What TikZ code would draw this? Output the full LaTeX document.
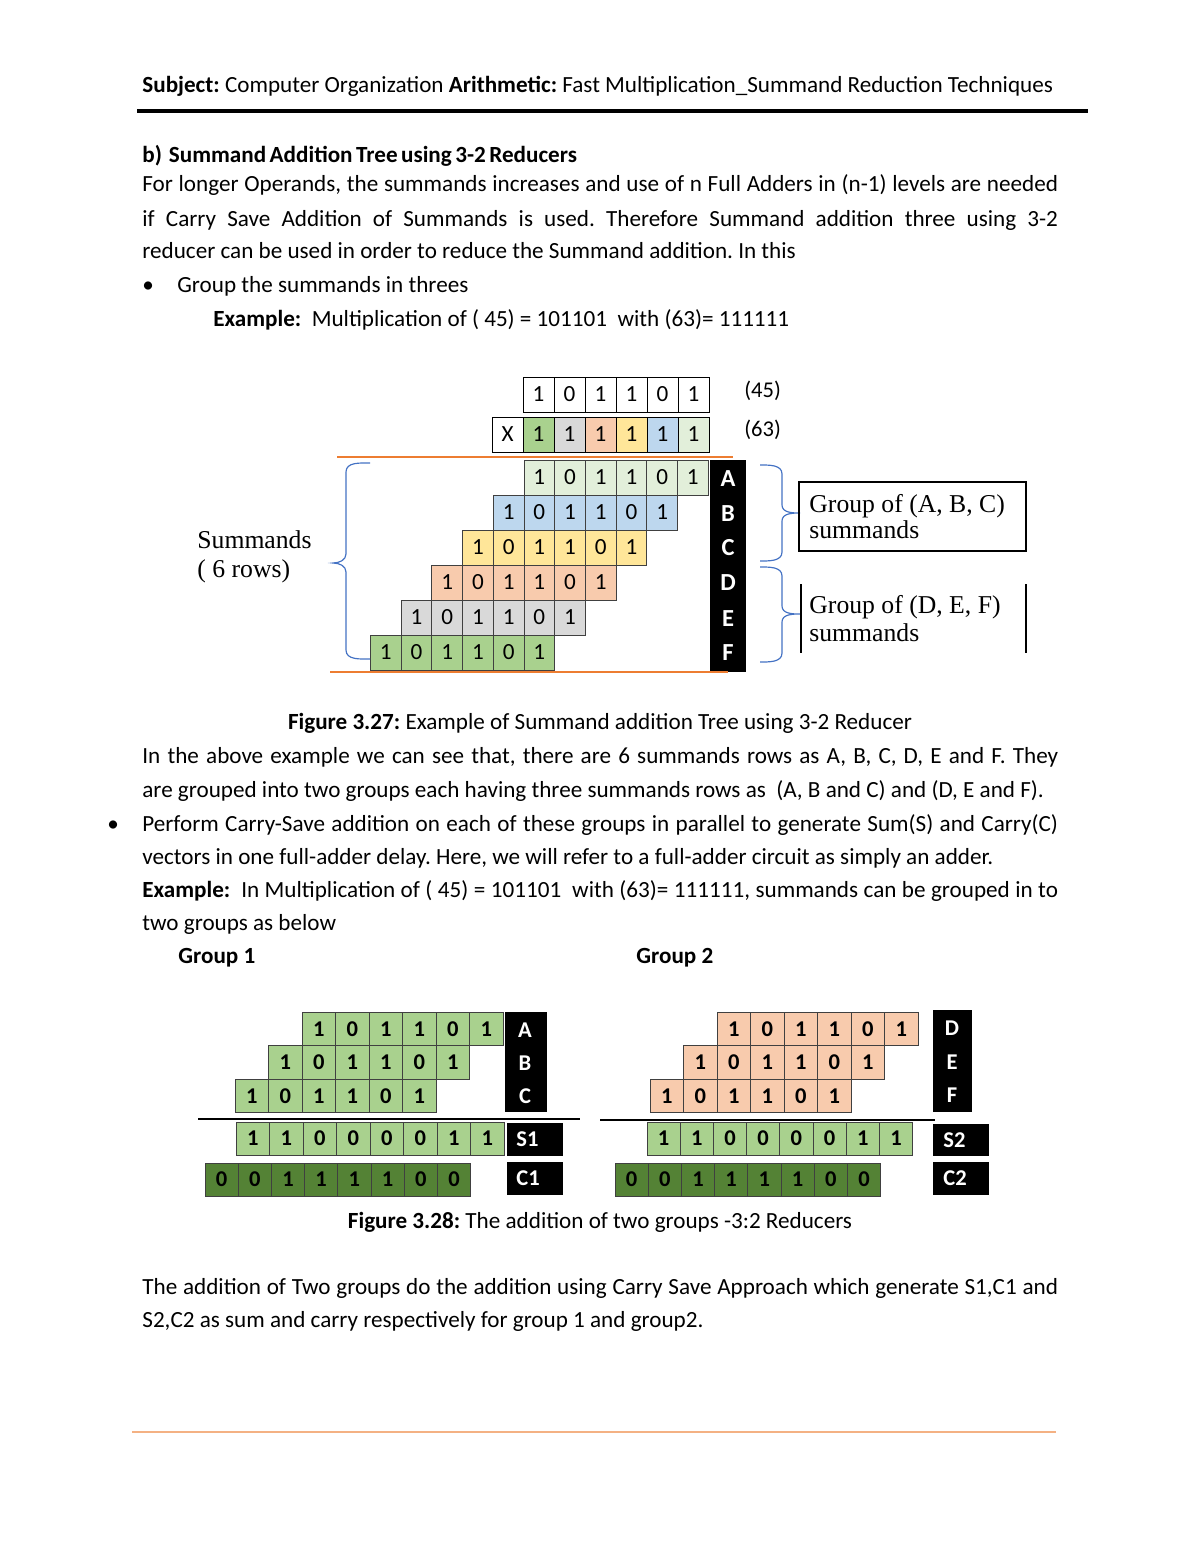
\documentclass[tikz,border=0pt]{standalone}
\usepackage{fontspec}
\setmainfont{Carlito}
\newfontfamily\seriffont{Liberation Serif}
\usetikzlibrary{positioning}

\definecolor{pgreen}{HTML}{A9D18E}
\definecolor{plight}{HTML}{E2EFDA}
\definecolor{pblue}{HTML}{BDD7EE}
\definecolor{pyellow}{HTML}{FFE699}
\definecolor{ppeach}{HTML}{F8CBAD}
\definecolor{pgray}{HTML}{D9D9D9}
\definecolor{pdark}{HTML}{548235}
\definecolor{lineorange}{HTML}{ED7D31}
\definecolor{footorange}{HTML}{F4B183}
\definecolor{braceblue}{HTML}{4472C4}

% one justified line of the 467pt text block
\newcommand{\jline}[1]{\hbox to 467pt{\spaceskip=0.226em plus 1em minus 0.12em #1}}

\begin{document}
\frenchspacing
\begin{tikzpicture}[x=0.51pt,y=-0.51pt,
  txt/.style={anchor=base west,inner sep=0pt,font=\fontsize{11.8}{14}\selectfont},
  btxt/.style={txt,font=\bfseries\fontsize{11.8}{14}\selectfont},
  serif/.style={anchor=base west,inner sep=0pt,font=\seriffont\fontsize{13.1}{15}\selectfont},
  cellbox/.style={draw=black!75,line width=0.5pt},
  digit/.style={inner sep=0pt,font=\fontsize{11.8}{14}\selectfont},
  bdigit/.style={inner sep=0pt,font=\bfseries\fontsize{11.5}{14}\selectfont},
  tag/.style={inner sep=0pt,text=white,font=\bfseries\fontsize{12.5}{14}\selectfont},
  stag/.style={anchor=west,inner sep=0pt,text=white,font=\bfseries\fontsize{11.5}{13}\selectfont},
  bracket/.style={draw=braceblue,line width=0.6pt},
  orule/.style={draw=lineorange,line width=1pt}]

\useasboundingbox[fill=white] (0,0) rectangle (1200,1553);

% header
\node[txt] (head) at (142,93) {\textbf{Subject:} Computer Organization \textbf{Arithmetic:} Fast Multiplication\_Summand Reduction Techniques};
\draw[line width=2pt] (137,111) -- (1088,111);

% first text block
\node[btxt] (title) at (142,163) {\spaceskip=0.15em b)\ \ Summand Addition Tree using 3-2 Reducers};
\node[txt] (l1) at (142,192) {\jline{For longer Operands, the summands increases and use of n Full Adders in (n-1) levels are needed}};
\node[txt] (l2) at (142,226) {\jline{if Carry Save Addition of Summands is used. Therefore Summand addition three using 3-2}};
\node[txt] (l3) at (142,258) {reducer can be used in order to reduce the Summand addition. In this};
\node[txt] (dot1) at (142,292) {\textbullet};
\node[txt] (l4) at (177,292) {Group the summands in threes};
\node[txt] (l5) at (213,326) {\textbf{Example:}\ \ Multiplication of ( 45) = 101101\ \ with (63)= 111111};

% Figure 3.27: multiplicand and multiplier
\foreach \b [count=\i] in {1,0,1,1,0,1}
  \draw[cellbox,draw=black] ({523+(\i-1)*31},377) rectangle ++(31,35)
    node[digit] (m\i) at ({523+(\i-0.5)*31},394.5) {\b};
\draw[cellbox,draw=black] (492,417) rectangle ++(31,35) node[digit] (x) at (507.5,434.5) {X};
\foreach \col [count=\i] in {pgreen,pgray,ppeach,pyellow,pblue,plight}
  \draw[cellbox,draw=black,fill=\col] ({523+(\i-1)*31},417) rectangle ++(31,35)
    node[digit] (q\i) at ({523+(\i-0.5)*31},434.5) {1};
\node[txt,font=\fontsize{11.5}{14}\selectfont] (n45) at (744,397) {(45)};
\node[txt,font=\fontsize{11.5}{14}\selectfont] (n63) at (744,436) {(63)};

% summand rows
\foreach \row/\px/\py/\col in {A/524/460/plight,B/493.3/495/pblue,C/462.6/530/pyellow,D/431.9/565/ppeach,E/401.2/600/pgray,F/370.5/635/pgreen}
  \foreach \b [count=\i] in {1,0,1,1,0,1}
    \draw[cellbox,fill=\col] ({\px+(\i-1)*30.7},\py) rectangle ++(30.7,35)
      node[digit] (\row\i) at ({\px+(\i-0.5)*30.7},\py+17.5) {\b};

\fill (710,460) rectangle (746,672);
\foreach \row/\py in {A/479,B/514,C/548,D/583,E/619,F/653}
  \node[tag] (t\row) at (728,\py) {\row};

\draw[orule] (337,457) -- (733,457);
\draw[orule] (330,672) -- (728,672);

% braces
\draw[bracket] (370,463) to[out=180,in=90] (346,472) -- (346,554) to[out=-90,in=0] (333,563)
  to[out=0,in=90] (346,572) -- (346,650) to[out=-90,in=180] (370,659);
\draw[bracket] (760,465) to[out=0,in=90] (782,474) -- (782,505) to[out=-90,in=180] (800,513)
  to[out=180,in=90] (782,521) -- (782,552) to[out=-90,in=0] (760,561);
\draw[bracket] (760,567) to[out=0,in=90] (782,576) -- (782,606) to[out=-90,in=180] (800,614)
  to[out=180,in=90] (782,622) -- (782,653) to[out=-90,in=0] (760,662);

\node[serif] (sum1) at (197,548) {Summands};
\node[serif] (sum2) at (197,577) {( 6 rows)};
\draw[line width=0.8pt] (799,482) rectangle (1026,551);
\node[serif] (g1a) at (809,512) {Group of (A, B, C)};
\node[serif] (g1b) at (809,538) {summands};
\draw[line width=0.8pt] (801,584) -- (801,653);
\draw[line width=0.8pt] (1026,584) -- (1026,653);
\node[serif] (g2a) at (809,613) {Group of (D, E, F)};
\node[serif] (g2b) at (809,641) {summands};

% second text block
\node[txt,anchor=base] (cap1) at (600,729) {\textbf{Figure 3.27:} Example of Summand addition Tree using 3-2 Reducer};
\node[txt] (p1) at (142,763) {\jline{In the above example we can see that, there are 6 summands rows as A, B, C, D, E and F. They}};
\node[txt] (p2) at (142,797) {are grouped into two groups each having three summands rows as\ \ (A, B and C) and (D, E and F).};
\node[txt] (dot2) at (107,831) {\textbullet};
\node[txt] (p3) at (142,831) {\jline{Perform Carry-Save addition on each of these groups in parallel to generate Sum(S) and Carry(C)}};
\node[txt] (p4) at (142,864) {vectors in one full-adder delay. Here, we will refer to a full-adder circuit as simply an adder.};
\node[txt] (p5) at (142,897) {\jline{\textbf{Example:}\ \ In Multiplication of ( 45) = 101101\ \ with (63)= 111111, summands can be grouped in to}};
\node[txt] (p6) at (142,930) {two groups as below};
\node[btxt] (grp1) at (178,963) {Group 1};
\node[btxt] (grp2) at (636,963) {Group 2};

% Figure 3.28: group 1
\foreach \row/\px/\py in {A/302/1012,B/268.5/1045.5,C/235/1079}
  \foreach \b [count=\i] in {1,0,1,1,0,1}
    \draw[cellbox,fill=pgreen] ({\px+(\i-1)*33.5},\py) rectangle ++(33.5,33.5)
      node[bdigit] (u\row\i) at ({\px+(\i-0.5)*33.5},\py+16.75) {\b};
\draw[line width=0.6pt] (198,1119) -- (580,1119);
\foreach \b [count=\i] in {1,1,0,0,0,0,1,1}
  \draw[cellbox,fill=pgreen] ({236+(\i-1)*33.5},1122) rectangle ++(33.5,33)
    node[bdigit] (us\i) at ({236+(\i-0.5)*33.5},1138.5) {\b};
\foreach \b [count=\i] in {0,0,1,1,1,1,0,0}
  \draw[cellbox,fill=pdark] ({205+(\i-1)*33.2},1163) rectangle ++(33.2,33)
    node[bdigit] (uc\i) at ({205+(\i-0.5)*33.2},1179.5) {\b};
\fill (505,1012) rectangle (547,1112);
\foreach \row/\py in {A/1030,B/1063,C/1096}
  \node[tag,font=\bfseries\fontsize{11.5}{13}\selectfont] (ut\row) at (525,\py) {\row};
\fill (507,1123) rectangle (563,1156);
\node[stag] (s1) at (516,1139.5) {S1};
\fill (507,1162) rectangle (563,1195);
\node[stag] (c1) at (516,1178.5) {C1};

% Figure 3.28: group 2
\foreach \row/\px/\py in {D/717/1012,E/683.5/1045.5,F/650/1079}
  \foreach \b [count=\i] in {1,0,1,1,0,1}
    \draw[cellbox,fill=ppeach] ({\px+(\i-1)*33.5},\py) rectangle ++(33.5,33.5)
      node[bdigit] (v\row\i) at ({\px+(\i-0.5)*33.5},\py+16.75) {\b};
\draw[line width=0.6pt] (600,1120) -- (935,1120);
\foreach \b [count=\i] in {1,1,0,0,0,0,1,1}
  \draw[cellbox,fill=pgreen] ({647+(\i-1)*33.2},1122) rectangle ++(33.2,33)
    node[bdigit] (vs\i) at ({647+(\i-0.5)*33.2},1138.5) {\b};
\foreach \b [count=\i] in {0,0,1,1,1,1,0,0}
  \draw[cellbox,fill=pdark] ({615+(\i-1)*33.2},1163) rectangle ++(33.2,33)
    node[bdigit] (vc\i) at ({615+(\i-0.5)*33.2},1179.5) {\b};
\fill (933,1010) rectangle (972,1112);
\foreach \row/\py in {D/1028,E/1062,F/1095}
  \node[tag,font=\bfseries\fontsize{11.5}{13}\selectfont] (vt\row) at (952,\py) {\row};
\fill (933,1124) rectangle (989,1156);
\node[stag] (s2) at (943,1140) {S2};
\fill (933,1162) rectangle (989,1195);
\node[stag] (c2) at (943,1178.5) {C2};

% closing text
\node[txt,anchor=base] (cap2) at (600,1228) {\textbf{Figure 3.28:} The addition of two groups -3:2 Reducers};
\node[txt] (q1) at (142,1294) {\jline{The addition of Two groups do the addition using Carry Save Approach which generate S1,C1 and}};
\node[txt] (q2) at (142,1327) {S2,C2 as sum and carry respectively for group 1 and group2.};
\draw[draw=footorange,line width=1pt] (132,1432) -- (1056,1432);
\end{tikzpicture}
\end{document}
